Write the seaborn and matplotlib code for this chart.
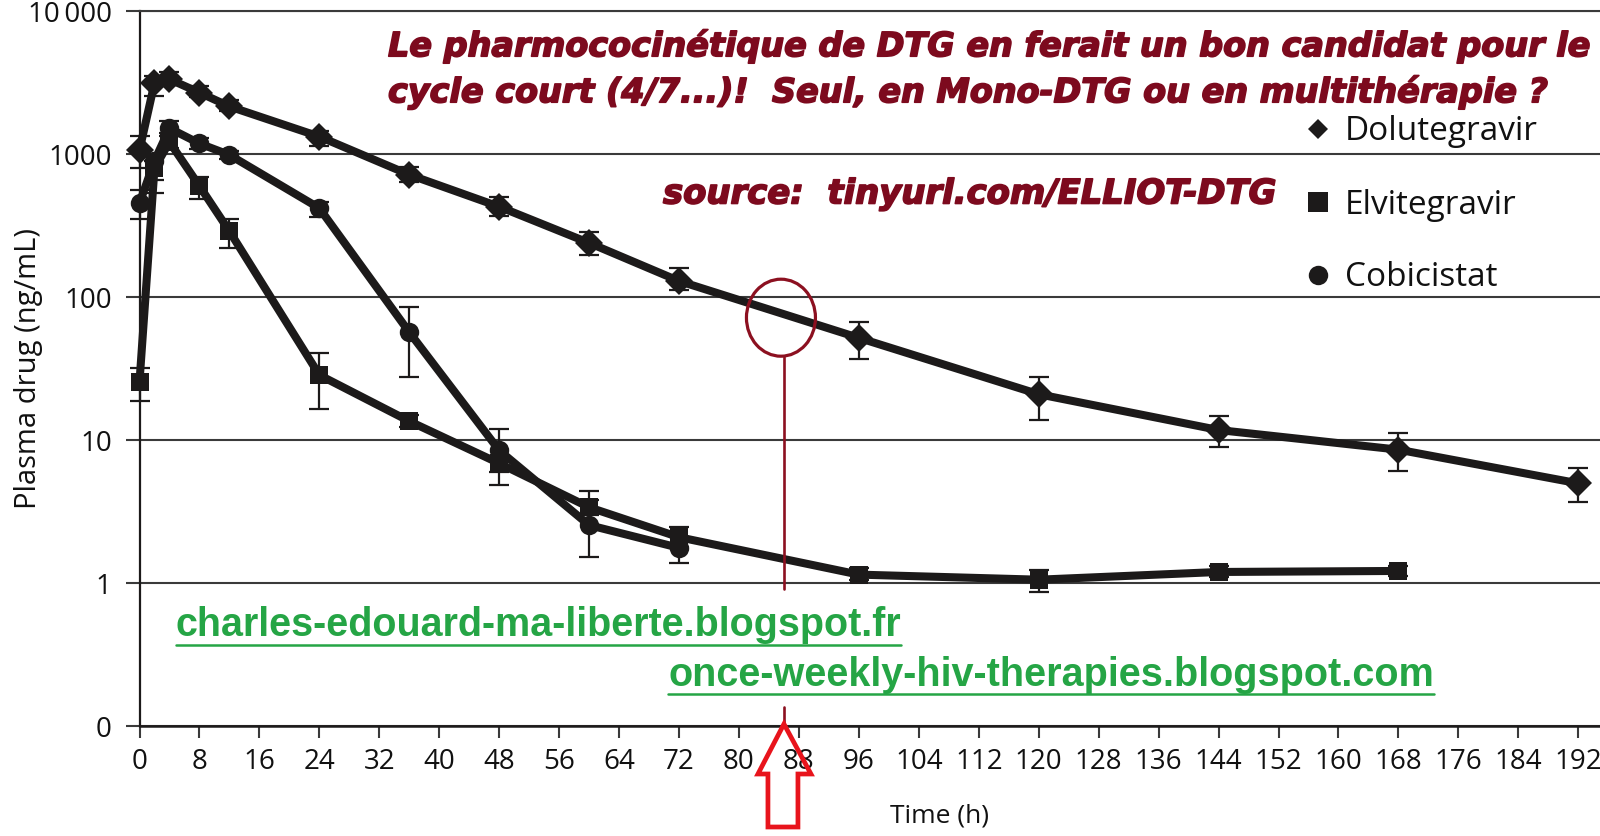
import numpy as np
import matplotlib
matplotlib.use("Agg")
import matplotlib.pyplot as plt
import seaborn as sns
from matplotlib.lines import Line2D
from matplotlib.patches import Ellipse, Polygon
from matplotlib.ticker import NullLocator, FixedLocator
import matplotlib.patheffects as pe

# ---------------- data ----------------
time_dtg = [0, 2, 4, 8, 12, 24, 36, 48, 60, 72, 96, 120, 144, 168, 192]
dtg = [1070, 3150, 3350, 2700, 2160, 1330, 720, 430, 240, 130, 52, 21, 11.8, 8.6, 5.0]
dtg_hi = [1350, 3550, 3750, 3000, 2400, 1460, 810, 500, 285, 160, 67, 27.8, 14.8, 11.2, 6.4]
dtg_lo = [800, 2550, 3050, 2500, 2000, 1140, 640, 370, 198, 112, 37, 13.9, 9.0, 6.1, 3.7]

time_evg = [0, 2, 4, 8, 12, 24, 36, 48, 60, 72, 96, 120, 144, 168]
evg = [25.6, 800, 1220, 600, 290, 28.6, 13.6, 6.9, 3.4, 2.1, 1.15, 1.06, 1.2, 1.22]
evg_hi = [31.8, 900, 1400, 690, 355, 40.5, 15, 7.8, 3.8, 2.46, 1.28, 1.24, 1.32, 1.32]
evg_lo = [18.8, 660, 1100, 490, 220, 16.5, 12.3, 4.9, 3.0, 1.8, 1.05, 0.87, 1.1, 1.12]

time_cobi = [0, 2, 4, 8, 12, 24, 36, 48, 60, 72]
cobi = [455, 900, 1520, 1190, 990, 420, 57, 8.5, 2.55, 1.77]
cobi_hi = [560, 1000, 1700, 1300, 1060, 465, 86, 11.9, 4.4, 2.1]
cobi_lo = [350, 540, 1350, 1090, 920, 365, 27.5, 6.0, 1.53, 1.39]

series_names = ["Dolutegravir", "Elvitegravir", "Cobicistat"]
x_ticks = list(range(0, 193, 8))
y_ticks = [0.1, 1, 10, 100, 1000, 10000]
y_tick_labels = ["0", "1", "10", "100", "1000", "10\u2009000"]

marker_time = 86  # h, highlighted point

title_1 = "Le pharmococinétique de DTG en ferait un bon candidat pour le"
title_2 = "cycle court (4/7...)!  Seul, en Mono-DTG ou en multithérapie ?"
source_txt = "source:  tinyurl.com/ELLIOT-DTG"
blog_1 = "charles-edouard-ma-liberte.blogspot.fr"
blog_2 = "once-weekly-hiv-therapies.blogspot.com"

# ---------------- style ----------------
sns.set_style("ticks")
plt.rcParams["font.family"] = ["Open Sans", "DejaVu Sans"]

INK = "#1c1a1a"
GRID = "#3a3a3a"
DARKRED = "#7d0a1e"
LINERED = "#8c1020"
GREEN = "#25a545"
ARROWRED = "#e8141c"

W, H = 1600, 836
fig = plt.figure(figsize=(W / 100, H / 100), dpi=100)
ax = fig.add_axes([139.5 / W, 1 - 726.3 / H, 1 - 139.5 / W, (726.3 - 11.3) / H])
ax.set_yscale("log")
ax.set_xlim(0, 194.9)
ax.set_ylim(0.1, 10000)

specs = [
    (time_dtg, dtg, dtg_lo, dtg_hi, "D", 14),
    (time_evg, evg, evg_lo, evg_hi, "s", 13),
    (time_cobi, cobi, cobi_lo, cobi_hi, "o", 14),
]
for name, (t, v, lo, hi, m, ms) in zip(series_names, specs):
    v_a, lo_a, hi_a = np.array(v), np.array(lo), np.array(hi)
    cont = ax.errorbar(t, v_a, yerr=[v_a - lo_a, hi_a - v_a], fmt="none",
                       ecolor=INK, elinewidth=1.6, capsize=7, capthick=1.6, zorder=3)
    for art in list(cont.lines[1]) + list(cont.lines[2]):
        art.set_clip_on(False)
    sns.lineplot(x=t, y=v, ax=ax, color=INK, lw=5.8, marker=m, markersize=ms,
                 markeredgewidth=0, clip_on=False, zorder=4, sort=False,
                 errorbar=None)

# axes styling
ax.yaxis.set_major_locator(FixedLocator(y_ticks))
ax.yaxis.set_minor_locator(NullLocator())
ax.set_yticklabels(y_tick_labels)
ax.set_xticks(x_ticks)
ax.set_xticklabels([str(x) for x in x_ticks])
ax.yaxis.grid(True, color=GRID, lw=1.5)
ax.xaxis.grid(False)
ax.tick_params(axis="y", direction="out", length=10, width=1.5, color=GRID,
               pad=10, labelsize=20, labelcolor="#111111")
ax.tick_params(axis="x", direction="out", length=8.5, width=1.5, color=GRID,
               pad=7, labelsize=20, labelcolor="#111111")
ax.spines["right"].set_visible(False)
ax.spines["top"].set_color(GRID)
ax.spines["top"].set_linewidth(1.5)
ax.spines["left"].set_color(INK)
ax.spines["left"].set_linewidth(1.6)
ax.spines["bottom"].set_color(INK)
ax.spines["bottom"].set_linewidth(1.8)

ax.set_ylabel("Plasma drug (ng/mL)", fontsize=21, color="#111111")
ax.yaxis.set_label_coords(-0.066, 0.5)
ax.set_xlabel("Time (h)", fontsize=19, color="#111111")
ax.xaxis.set_label_coords(0.5475, -0.108)

# legend (markers only)
handles = [
    Line2D([], [], ls="none", marker="D", markersize=10, color=INK, markeredgewidth=0),
    Line2D([], [], ls="none", marker="s", markersize=14, color=INK, markeredgewidth=0),
    Line2D([], [], ls="none", marker="o", markersize=14, color=INK, markeredgewidth=0),
]
LEG_FS = 24
fs_px = LEG_FS * 100 / 72


def make_legend(ls, top_px, left_px):
    lg = fig.legend(handles, series_names, loc="upper left",
                    bbox_to_anchor=(left_px / W, 1 - top_px / H), frameon=False,
                    fontsize=LEG_FS, labelspacing=ls, handlelength=0.8,
                    handletextpad=0.4, borderpad=0, borderaxespad=0)
    for txt in lg.get_texts():
        txt.set_color("#111111")
    return lg


ls, top_px, left_px = 1.1, 112, 1309
leg = make_legend(ls, top_px, left_px)
fig.canvas.draw()
r = fig.canvas.get_renderer()
for _ in range(2):
    cys = [H - 0.5 * (t.get_window_extent(r).y0 + t.get_window_extent(r).y1) for t in leg.get_texts()]
    x0 = leg.get_texts()[0].get_window_extent(r).x0
    pitch = (cys[2] - cys[0]) / 2
    ls = ls + (73 - pitch) / fs_px
    top_px = top_px + (132 - cys[0])
    left_px = left_px + (1345 - x0)
    leg.remove()
    leg = make_legend(ls, top_px, left_px)
    fig.canvas.draw()

# highlighted time: red line + ellipse
ax.plot([marker_time, marker_time], [0.91, 38], color=LINERED, lw=1.9, clip_on=False, zorder=5)
ax.plot([marker_time, marker_time], [0.1, 0.136], color=LINERED, lw=1.9, clip_on=False, zorder=5)

cx, cy = fig.transFigure.inverted().transform(ax.transData.transform((marker_time - 0.4, 72)))
ell = Ellipse((cx, cy), 69 / W, 77 / H, transform=fig.transFigure, fill=False,
              edgecolor=LINERED, lw=2.3, zorder=6)
fig.patches.append(ell)

# hollow arrow pointing up at the highlighted time
tip_px = ax.transData.transform((marker_time, 0.1))
tx = tip_px[0]
ty = H - 724
pts = [(tx, ty), (tx + 27, ty - 50), (tx + 14, ty - 50), (tx + 14, ty - 103),
       (tx - 16, ty - 103), (tx - 16, ty - 50), (tx - 26, ty - 50)]
pts_fig = [(px / W, py / H) for px, py in pts]
arrow = Polygon(pts_fig, closed=True, fill=False, edgecolor=ARROWRED, lw=3.4,
                transform=fig.transFigure, joinstyle="miter", zorder=7)
fig.patches.append(arrow)

# texts (font size fitted to the measured widths)
tfont = dict(family=["DejaVu Sans"], weight="bold", style="italic", color=DARKRED,
             fontsize=20,
             path_effects=[pe.withStroke(linewidth=1.2, foreground=DARKRED)])
t1 = fig.text(388 / W, 1 - 46 / H, title_1, ha="left", va="center", **tfont)
t2 = fig.text(388 / W, 1 - 92 / H, title_2, ha="left", va="center", **tfont)
t3 = fig.text(663 / W, 1 - 194 / H, source_txt, ha="left", va="center", **tfont)

gfont = dict(family=["Liberation Sans", "DejaVu Sans"], weight="bold",
             color=GREEN, fontsize=25)
b1 = fig.text(175.5 / W, 1 - 624.5 / H, blog_1, ha="left", va="center", **gfont)
b2 = fig.text(668 / W, 1 - 675.5 / H, blog_2, ha="left", va="center", **gfont)


def fit(tobj, target):
    for _ in range(2):
        fig.canvas.draw()
        bb = tobj.get_window_extent(fig.canvas.get_renderer())
        tobj.set_fontsize(tobj.get_fontsize() * target / bb.width)


fit(t2, 1160)
t1.set_fontsize(t2.get_fontsize())
fit(t3, 612)
fit(b1, 725)
fit(b2, 766)

fig.canvas.draw()
r = fig.canvas.get_renderer()
for tobj, uy in ((b1, 645), (b2, 694)):
    bb = tobj.get_window_extent(r)
    fig.add_artist(Line2D([bb.x0 / W, bb.x1 / W], [1 - uy / H, 1 - uy / H],
                          transform=fig.transFigure, color=GREEN, lw=1.8))

fig.savefig("out.png", dpi=100)
